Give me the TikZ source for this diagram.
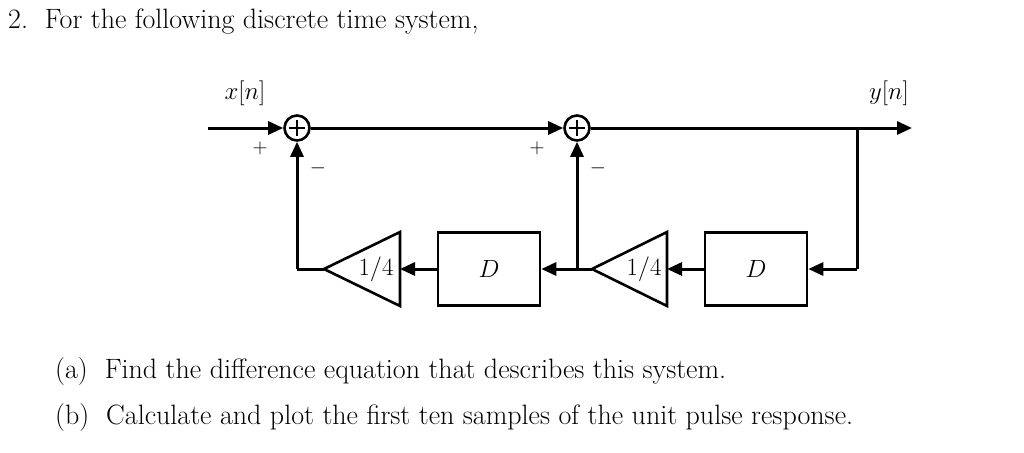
\documentclass[tikz,border=0pt]{standalone}
\usetikzlibrary{arrows.meta}
\begin{document}
\begin{tikzpicture}[x=1pt,y=-1pt,
  w/.style={line width=3pt,-{Triangle[length=15pt,width=13pt]}},
  l/.style={line width=3pt},
  sum/.style={circle,draw,line width=2.6pt,minimum size=25pt,inner sep=0pt},
  blk/.style={draw,line width=2.6pt,minimum width=102pt,minimum height=73pt,font=\fontsize{30}{34}\selectfont},
  txt/.style={font=\fontsize{28}{32}\selectfont,anchor=west,inner sep=0pt},
  sm/.style={font=\fontsize{27}{30}\selectfont,inner sep=0pt}]
\useasboundingbox (0,0) rectangle (1024,452);
\node[txt] (title) at (8,22) {2.\ \ For the following discrete time system,};
\node[txt] (qa) at (55,372) {(a)\ \ Find the difference equation that describes this system.};
\node[txt] (qb) at (55,418) {(b)\ \ Calculate and plot the first ten samples of the unit pulse response.};
\node[sum] (s1) at (297,128) {};
\node[sum] (s2) at (577,128) {};
\draw[line width=1.5pt] (s1.center)+(-8,0) -- +(8,0) (s1.center)+(0,-8) -- +(0,8);
\draw[line width=1.5pt] (s2.center)+(-8,0) -- +(8,0) (s2.center)+(0,-8) -- +(0,8);
\node[blk] (d1) at (489,269) {$D$};
\node[blk] (d2) at (756,269) {$D$};
\coordinate (g1t) at (324,269); \coordinate (g1a) at (400,232); \coordinate (g1b) at (400,306);
\coordinate (g2t) at (592,269); \coordinate (g2a) at (667,232); \coordinate (g2b) at (667,306);
\draw[line width=2.6pt,line join=miter] (g1t) -- (g1a) -- (g1b) -- cycle;
\draw[line width=2.6pt,line join=miter] (g2t) -- (g2a) -- (g2b) -- cycle;
\node[sm] (k1) at (376,269) {$1/4$};
\node[sm] (k2) at (644,269) {$1/4$};
\coordinate (in) at (208,128);
\coordinate (out) at (912,128);
\coordinate (tap) at (857,128);
\coordinate (tapb) at (857,269);
\coordinate (j2) at (577,269);
\coordinate (c1) at (297,269);
\draw[w] (in) -- (s1);
\draw[w] (s1) -- (s2);
\draw[w] (s2) -- (out);
\draw[l] (tap) -- (tapb);
\draw[w] (tapb) -- (d2.east);
\draw[w] (d2.west) -- (g2a |- g2t);
\draw[l] (g2t) -- (j2);
\draw[w] (j2) -- (d1.east);
\draw[w] (j2) -- (s2);
\draw[w] (d1.west) -- (g1a |- g1t);
\draw[l] (g1t) -- (c1);
\draw[w] (c1) -- (s1);
\node[sm,font=\fontsize{36}{40}\selectfont] (xl) at (245,93) {$x[n]$};
\node[sm,font=\fontsize{36}{40}\selectfont] (yl) at (889,93) {$y[n]$};
\node[sm,font=\fontsize{22}{24}\selectfont] (p1) at (260,148) {$+$};
\node[sm,font=\fontsize{22}{24}\selectfont] (m1) at (318,168) {$-$};
\node[sm,font=\fontsize{22}{24}\selectfont] (p2) at (537,148) {$+$};
\node[sm,font=\fontsize{22}{24}\selectfont] (m2) at (598,168) {$-$};
\end{tikzpicture}
\end{document}
